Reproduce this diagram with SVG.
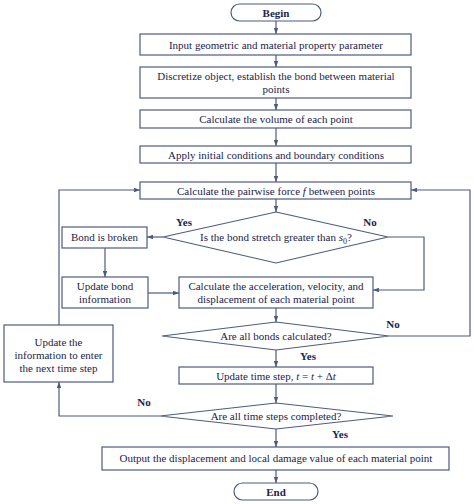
<svg xmlns="http://www.w3.org/2000/svg" width="474" height="504" viewBox="0 0 474 504">
<style>
.b{fill:#fff;stroke:#4d5b80;stroke-width:1.2}
.c{fill:none;stroke:#4d5b80;stroke-width:1.2}
text{font-family:"Liberation Serif","Times New Roman",serif;font-size:11px;fill:#23234d;text-anchor:middle}
.bold{font-weight:bold}
</style>
<defs>
<marker id="a" viewBox="0 0 8 6" refX="8" refY="3" markerWidth="6" markerHeight="4.5" orient="auto" markerUnits="userSpaceOnUse">
<path d="M0,0 L8,3 L0,6 z" fill="#4d5b80"/>
</marker>
</defs>
<rect width="474" height="504" fill="#fff"/>
<g id="connectors">
<path class="c" d="M276,21 V34" marker-end="url(#a)"/>
<path class="c" d="M276,55 V67" marker-end="url(#a)"/>
<path class="c" d="M276,98 V110" marker-end="url(#a)"/>
<path class="c" d="M276,128 V146" marker-end="url(#a)"/>
<path class="c" d="M276,163 V182" marker-end="url(#a)"/>
<path class="c" d="M276,199 V212" marker-end="url(#a)"/>
<path class="c" d="M163,237 H147" marker-end="url(#a)"/>
<path class="c" d="M105,248 V277" marker-end="url(#a)"/>
<path class="c" d="M148,293 H179" marker-end="url(#a)"/>
<path class="c" d="M388,237 H424 V290 H373" marker-end="url(#a)"/>
<path class="c" d="M276,308 V322" marker-end="url(#a)"/>
<path class="c" d="M389,336 H470 V190 H411" marker-end="url(#a)"/>
<path class="c" d="M276,350 V367" marker-end="url(#a)"/>
<path class="c" d="M276,384 V403" marker-end="url(#a)"/>
<path class="c" d="M160,416 H59 V382" marker-end="url(#a)"/>
<path class="c" d="M59,325 V190 H140" marker-end="url(#a)"/>
<path class="c" d="M276,429 V447" marker-end="url(#a)"/>
<path class="c" d="M276,470 V483" marker-end="url(#a)"/>
<text class="bold" x="184" y="226">Yes</text>
<text class="bold" x="370" y="226">No</text>
<text class="bold" x="393" y="328">No</text>
<text class="bold" x="308" y="360">Yes</text>
<text class="bold" x="144" y="406">No</text>
<text class="bold" x="340" y="438">Yes</text>
</g>
<g id="begin"><rect class="b" x="231" y="4" width="90" height="17" rx="8.5"/><text class="bold" x="276" y="16.5">Begin</text></g>
<g id="input"><rect class="b" x="140" y="34" width="271" height="21"/><text x="276" y="48.5">Input geometric and material property parameter</text></g>
<g id="discretize"><rect class="b" x="140" y="67" width="271" height="31"/><text x="276" y="80">Discretize object, establish the bond between material</text><text x="276" y="93">points</text></g>
<g id="volume"><rect class="b" x="140" y="110" width="271" height="18"/><text x="276" y="123">Calculate the volume of each point</text></g>
<g id="initial"><rect class="b" x="140" y="146" width="271" height="17"/><text x="276" y="158.5">Apply initial conditions and boundary conditions</text></g>
<g id="pairwise"><rect class="b" x="140" y="182" width="271" height="17"/><text x="276" y="194.5">Calculate the pairwise force <tspan font-style="italic">f</tspan> between points</text></g>
<g id="stretch"><polygon class="b" points="276,212 388,237 276,263 163,237"/><text x="276" y="241">Is the bond stretch greater than <tspan font-style="italic">s</tspan><tspan font-size="8" dy="3">0</tspan><tspan dy="-3">?</tspan></text></g>
<g id="broken"><rect class="b" x="62" y="227" width="85" height="21"/><text x="104.5" y="241">Bond is broken</text></g>
<g id="updatebond"><rect class="b" x="62" y="277" width="86" height="31"/><text x="105" y="290">Update bond</text><text x="105" y="303">information</text></g>
<g id="accel"><rect class="b" x="179" y="277" width="194" height="31"/><text x="276" y="290">Calculate the acceleration, velocity, and</text><text x="276" y="303">displacement of each material point</text></g>
<g id="allbonds"><polygon class="b" points="276,322 389,336 276,350 162,336"/><text x="276" y="340">Are all bonds calculated?</text></g>
<g id="updateinfo"><rect class="b" x="4" y="325" width="109" height="57"/><text x="58.5" y="346">Update the</text><text x="58.5" y="359">information to enter</text><text x="58.5" y="372">the next time step</text></g>
<g id="timestep"><rect class="b" x="179" y="367" width="194" height="17"/><text x="276" y="379.5">Update time step, <tspan font-style="italic">t</tspan> = <tspan font-style="italic">t</tspan> + Δ<tspan font-style="italic">t</tspan></text></g>
<g id="alltime"><polygon class="b" points="276,403 393,416 276,429 160,416"/><text x="276" y="420">Are all time steps completed?</text></g>
<g id="output"><rect class="b" x="102" y="447" width="347" height="23"/><text x="276" y="462">Output the displacement and local damage value of each material point</text></g>
<g id="end"><rect class="b" x="234" y="483" width="84" height="17" rx="8.5"/><text class="bold" x="276" y="495.5">End</text></g>
</svg>
